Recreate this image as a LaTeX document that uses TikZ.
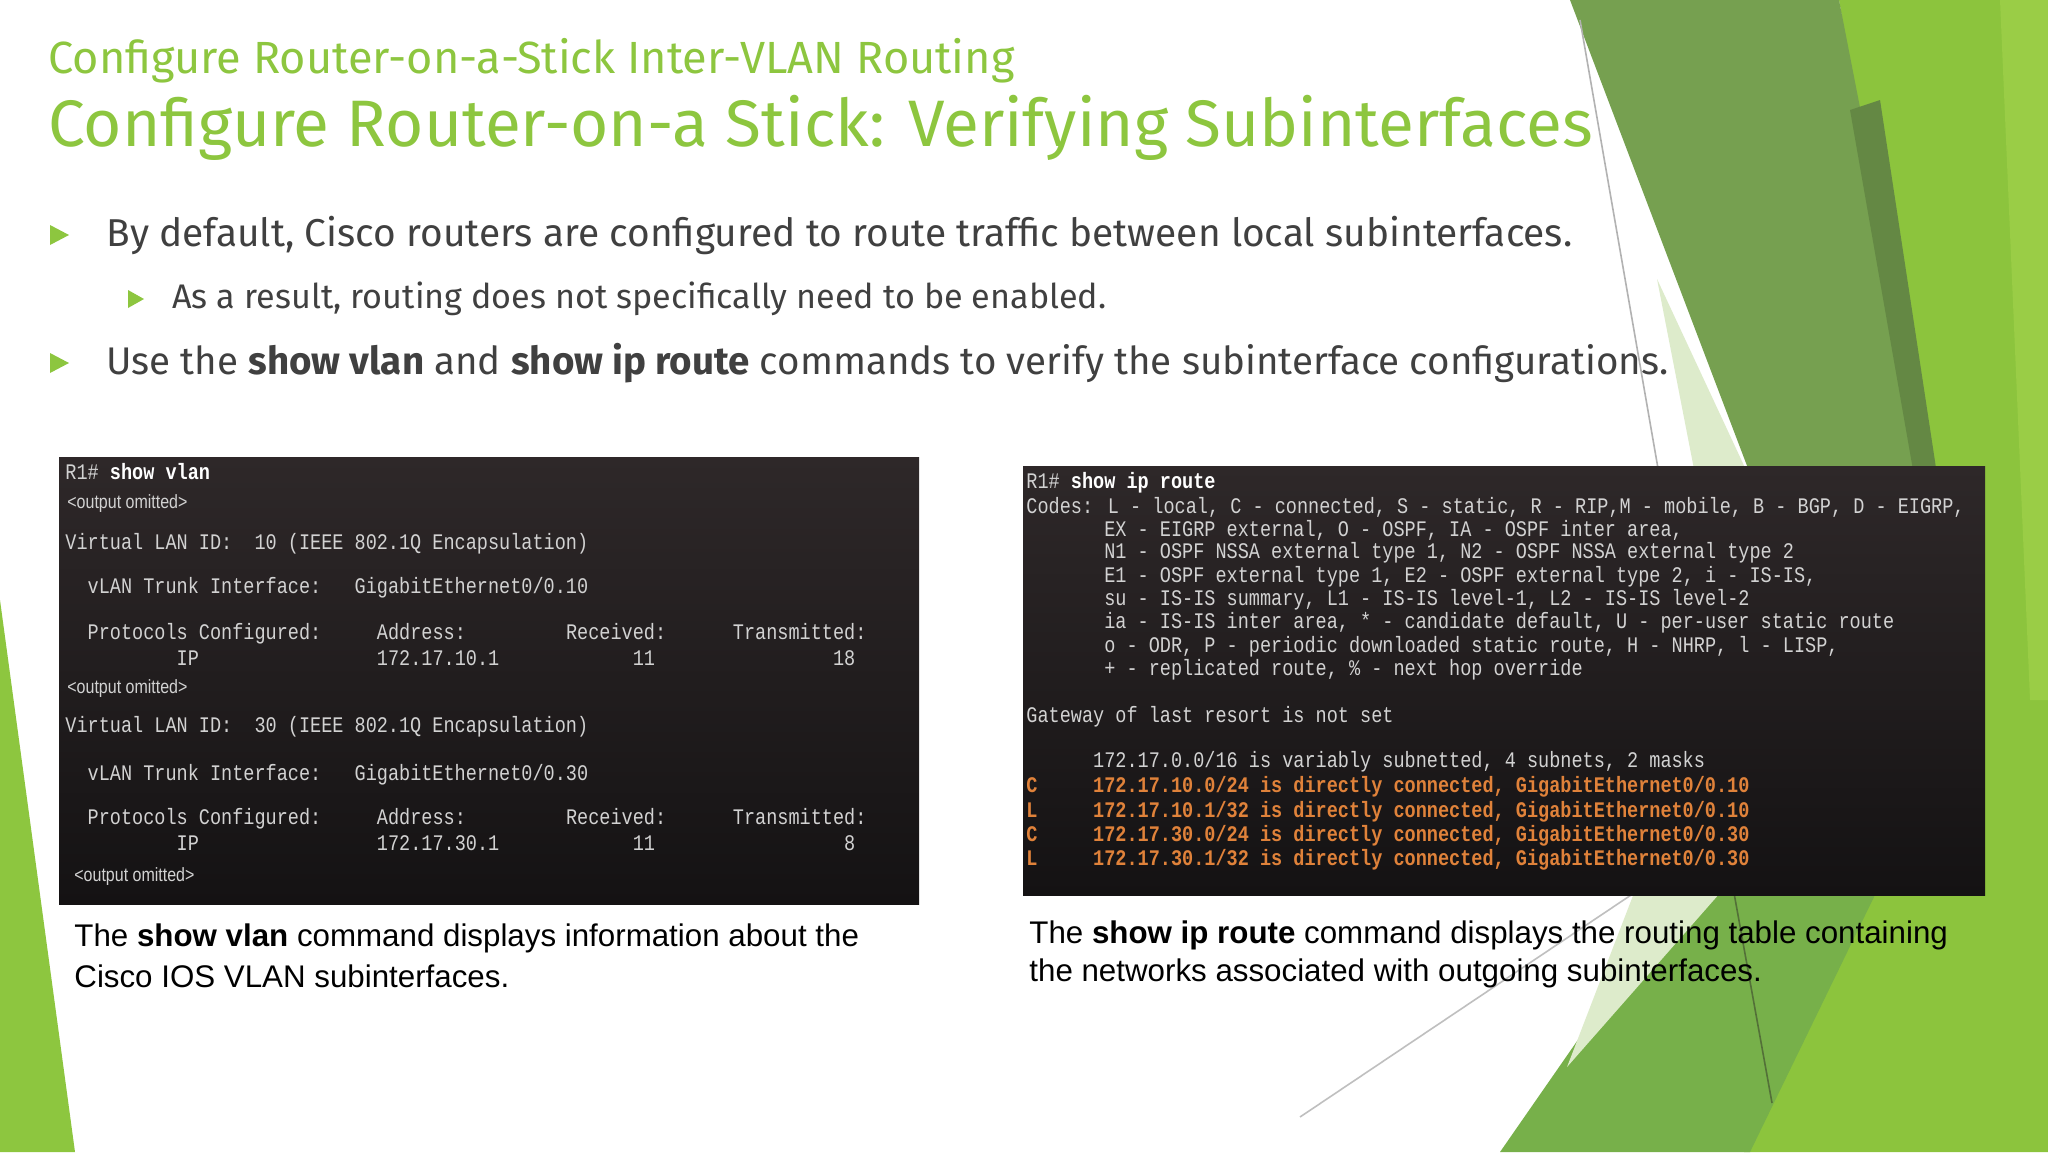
\documentclass[tikz,border=0pt]{standalone}
\usepackage{fontspec}
\setmainfont{Fira Sans}
\newfontfamily\mono[WordSpace={1,0,0}]{Liberation Mono}
\newfontfamily\arial{Liberation Sans}
\definecolor{tgreen}{HTML}{8DC63F}
\definecolor{tgray}{HTML}{404040}
\definecolor{ggreen}{HTML}{76A050}
\definecolor{mgreen}{HTML}{77B04A}
\definecolor{pgreen}{HTML}{DDEBCB}
\definecolor{bgreen}{HTML}{8CC43D}
\definecolor{lgreen}{HTML}{9ACD46}
\definecolor{code}{HTML}{D2D2D2}
\definecolor{orng}{HTML}{E0823A}
\definecolor{termtop}{HTML}{2E2829}
\definecolor{termbot}{HTML}{141213}
\newcommand{\tm}[1]{\scalebox{1}[1.2]{#1}}
\tikzset{
  cl/.style={anchor=west,inner sep=0pt,font=\mono\fontsize{9.27pt}{10pt}\selectfont,text=code},
  om/.style={anchor=west,inner sep=0pt,font=\arial\fontsize{8pt}{9pt}\selectfont,text=code},
  ol/.style={cl,text=orng},
  tx/.style={anchor=west,inner sep=0pt,text=tgray},
  captext/.style={anchor=west,inner sep=0pt,font=\arial\fontsize{15.65pt}{18pt}\selectfont,text=black},
  term/.style={top color=termtop,bottom color=termbot,draw=none},
  bul/.style={fill=tgreen,draw=none}
}
\begin{document}
\begin{tikzpicture}[x=0.5pt,y=-0.5pt]
\useasboundingbox (0,0) rectangle (2048,1152);
\fill[white] (0,0) rectangle (2048,1152);
% background facets
\fill[bgreen] (1839,0) -- (2048,0) -- (2048,1152) -- (1744,1152) -- (1870,860) -- (1940,600) -- cycle;
\fill[lgreen] (2000,0) -- (2048,0) -- (2048,700) -- (2030,700) -- cycle;
\fill[ggreen] (1570,0) -- (1839,0) -- (1960,620) -- (1760,500) -- cycle;
\fill[ggreen!85!black] (1850,110) -- (1880,100) -- (1950,560) -- (1913,470) -- cycle;
\fill[pgreen] (1657,279) -- (1700,500) -- (1760,500) -- cycle;
\fill[mgreen] (1500,1152) -- (1750,1152) -- (1960,720) -- (1800,720) -- cycle;
\fill[pgreen] (1567,1067) -- (1634,893) -- (1720,893) -- cycle;
\draw[gray!60,line width=0.8pt] (1580,20) -- (1660,480);
\draw[gray!50,line width=0.8pt] (1300,1117) -- (1634,893);
\draw[ggreen!70!black,line width=0.8pt] (1734,893) -- (1772,1103);
\fill[tgreen] (0,600) -- (75,1152) -- (0,1152) -- cycle;
% titles
\node[anchor=west,inner sep=0pt,text=tgreen] (t1) at (48,61) {\resizebox{483pt}{!}{Configure Router-on-a-Stick Inter-VLAN Routing}};
\node[anchor=west,inner sep=0pt,text=tgreen] (t2) at (48,128) {\resizebox{772pt}{!}{Configure Router-on-a Stick: Verifying Subinterfaces}};
% bullets
\fill[bul] (50,225) -- (69,235) -- (50,245) -- cycle;
\node[tx] (b1) at (106,235) {\resizebox{733pt}{!}{By default, Cisco routers are configured to route traffic between local subinterfaces.}};
\fill[bul] (128,290) -- (144,299) -- (128,308) -- cycle;
\node[tx] (b2) at (172,299) {\resizebox{467pt}{!}{As a result, routing does not specifically need to be enabled.}};
\fill[bul] (50,353) -- (69,363) -- (50,373) -- cycle;
\node[tx] (b3) at (106,363) {\resizebox{781pt}{!}{Use the \textbf{show vlan} and \textbf{show ip route} commands to verify the subinterface configurations.}};
% left terminal
\shade[term] (59,457) rectangle (919,904);
\node[cl] (l1) at (65,472) {\tm{R1\# \textbf{\color{white}show vlan}}};
\node[om] (l2) at (67,504) {\tm{<output omitted>}};
\node[cl] (l3) at (65,544) {\tm{Virtual LAN ID:~~10 (IEEE 802.1Q Encapsulation)}};
\node[cl] (l4) at (65,588) {\tm{~~vLAN Trunk Interface:~~~GigabitEthernet0/0.10}};
\node[cl] (l5) at (65,634) {\tm{~~Protocols Configured:~~~~~Address:~~~~~~~~~Received:~~~~~~Transmitted:}};
\node[cl] (l6) at (65,658) {\tm{~~~~~~~~~~IP~~~~~~~~~~~~~~~~172.17.10.1~~~~~~~~~~~~11~~~~~~~~~~~~~~~~18}};
\node[om] (l7) at (67,689) {\tm{<output omitted>}};
\node[cl] (l8) at (65,727) {\tm{Virtual LAN ID:~~30 (IEEE 802.1Q Encapsulation)}};
\node[cl] (l9) at (65,775) {\tm{~~vLAN Trunk Interface:~~~GigabitEthernet0/0.30}};
\node[cl] (l10) at (65,819) {\tm{~~Protocols Configured:~~~~~Address:~~~~~~~~~Received:~~~~~~Transmitted:}};
\node[cl] (l11) at (65,843) {\tm{~~~~~~~~~~IP~~~~~~~~~~~~~~~~172.17.30.1~~~~~~~~~~~~11~~~~~~~~~~~~~~~~~8}};
\node[om] (l12) at (74,877) {\tm{<output omitted>}};
% right terminal
\shade[term] (1023,466) rectangle (1985,895);
\node[cl] (r1) at (1026,483) {\tm{R1\# \textbf{\color{white}show ip route}}};
\node[cl] (r2) at (1026,507) {\tm{Codes: L - local, C - connected, S - static, R - RIP,M - mobile, B - BGP, D - EIGRP,}};
\node[cl] (r3) at (1026,530) {\tm{~~~~~~~EX - EIGRP external, O - OSPF, IA - OSPF inter area,}};
\node[cl] (r4) at (1026,553) {\tm{~~~~~~~N1 - OSPF NSSA external type 1, N2 - OSPF NSSA external type 2}};
\node[cl] (r5) at (1026,577) {\tm{~~~~~~~E1 - OSPF external type 1, E2 - OSPF external type 2, i - IS-IS,}};
\node[cl] (r6) at (1026,600) {\tm{~~~~~~~su - IS-IS summary, L1 - IS-IS level-1, L2 - IS-IS level-2}};
\node[cl] (r7) at (1026,623) {\tm{~~~~~~~ia - IS-IS inter area, * - candidate default, U - per-user static route}};
\node[cl] (r8) at (1026,647) {\tm{~~~~~~~o - ODR, P - periodic downloaded static route, H - NHRP, l - LISP,}};
\node[cl] (r9) at (1026,670) {\tm{~~~~~~~+ - replicated route, \% - next hop override}};
\node[cl] (r10) at (1026,717) {\tm{Gateway of last resort is not set}};
\node[cl] (r11) at (1026,762) {\tm{~~~~~~172.17.0.0/16 is variably subnetted, 4 subnets, 2 masks}};
\node[ol] (r12) at (1026,787) {\tm{\textbf{C~~~~~172.17.10.0/24 is directly connected, GigabitEthernet0/0.10}}};
\node[ol] (r13) at (1026,812) {\tm{\textbf{L~~~~~172.17.10.1/32 is directly connected, GigabitEthernet0/0.10}}};
\node[ol] (r14) at (1026,836) {\tm{\textbf{C~~~~~172.17.30.0/24 is directly connected, GigabitEthernet0/0.30}}};
\node[ol] (r15) at (1026,860) {\tm{\textbf{L~~~~~172.17.30.1/32 is directly connected, GigabitEthernet0/0.30}}};
% captions
\node[captext] (c1) at (74,938) {The \textbf{show vlan} command displays information about the};
\node[captext] (c2) at (74,976) {Cisco IOS VLAN subinterfaces.};
\node[captext] (c3) at (1029,935) {The \textbf{show ip route} command displays the routing table containing};
\node[captext] (c4) at (1029,973) {the networks associated with outgoing subinterfaces.};
\end{tikzpicture}
\end{document}
